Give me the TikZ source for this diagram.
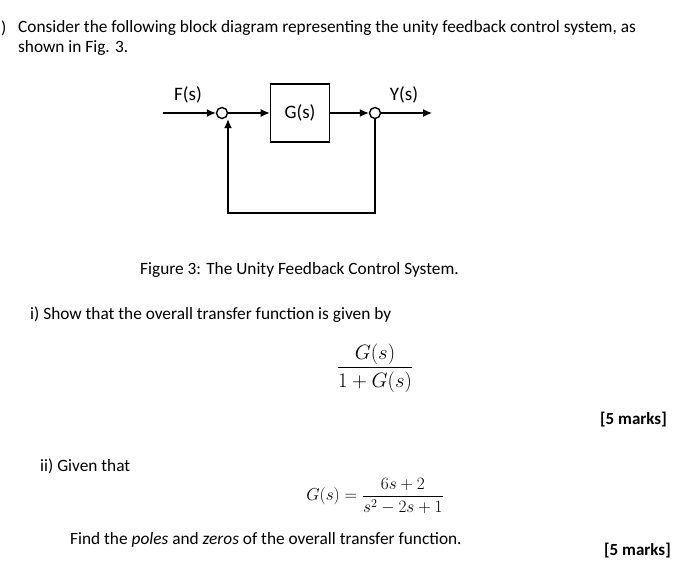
\documentclass[tikz,border=0pt]{standalone}
\usepackage{fontspec}
\setmainfont{Carlito}
\usepackage{amsmath}
\usetikzlibrary{positioning,arrows.meta}
\tikzset{
  sumpt/.style={circle,draw,line width=1.4pt,inner sep=0pt,minimum size=11pt},
  gblock/.style={draw,line width=1.6pt,minimum width=59pt,minimum height=58pt,font=\fontsize{19}{21}\selectfont},
  sig/.style={-{Latex[length=9pt,width=8pt]},line width=1.3pt},
  txt/.style={anchor=west,inner sep=0pt,font=\fontsize{17.3}{20}\selectfont},
}
\begin{document}
\begin{tikzpicture}[x=1pt,y=1pt]
    \useasboundingbox[fill=white] (0,0) rectangle (700,-576);
    %question header
    \node[txt] (brk) at (1,-28) {)};
    \node[txt] (l1) at (18,-28) {Consider the following block diagram representing the unity feedback control system, as};
    \node[txt] (l2) at (18,-48) {shown in Fig. 3.};

    %block diagram
    \coordinate (in) at (163,-113);
    \node[sumpt] (s_1) at (222,-113) {};
    \node[gblock] (g) at (300,-113) {G(s)};
    \node[sumpt] (s_2) at (375,-113) {};
    \coordinate (out) at (432,-113);
    \coordinate (fb_r) at (375,-213);
    \coordinate (fb_l) at (228,-213);
    \node[font=\fontsize{19}{21}\selectfont] (f_lbl) at (188,-95) {F(s)};
    \node[font=\fontsize{19}{21}\selectfont] (y_lbl) at (404,-95) {Y(s)};

    \draw[sig] (in) -- (s_1);
    \draw[sig] (s_1) -- (g);
    \draw[sig] (g) -- (s_2);
    \draw[sig] (s_2) -- (out);
    \draw[sig] (s_2.south) -- (fb_r) -- (fb_l) -- (fb_l |- s_1.south);

    %caption
    \node[txt] (cap) at (140,-270) {Figure 3: The Unity Feedback Control System.};

    %part i
    \node[txt] (p1) at (30,-315) {i) Show that the overall transfer function is given by};
    \node (tf) at (375,-368) {\fontsize{21}{24}\selectfont$\dfrac{G(s)}{1+G(s)}$};
    \node[txt,font=\bfseries\fontsize{17}{20}\selectfont] (m1) at (600,-420) {[5 marks]};

    %part ii
    \node[txt] (p2) at (40,-466) {ii) Given that};
    \node (gs) at (375,-496) {\fontsize{18}{21}\selectfont$G(s)=\dfrac{6s+2}{s^2-2s+1}$};
    \node[txt] (p3) at (70,-540) {Find the \textit{poles} and \textit{zeros} of the overall transfer function.};
    \node[txt,font=\bfseries\fontsize{17}{20}\selectfont] (m2) at (604,-551) {[5 marks]};
\end{tikzpicture}
\end{document}
